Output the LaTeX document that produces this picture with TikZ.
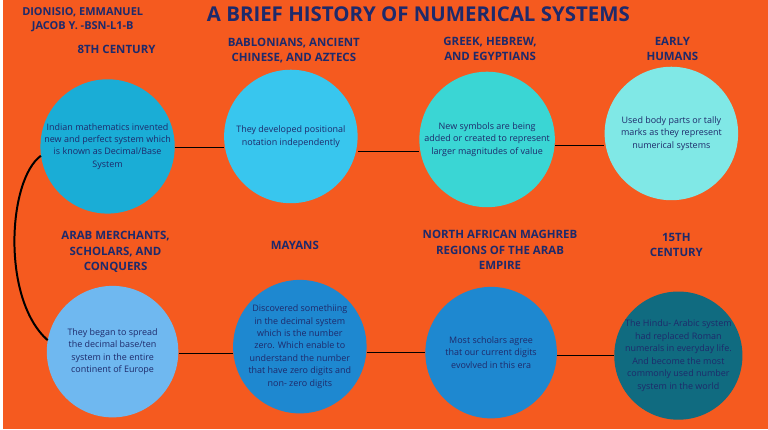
\documentclass[tikz,border=0pt]{standalone}
\usepackage{fontspec}
\setmainfont{Open Sans}
\definecolor{bg}{HTML}{F55A1F}
\definecolor{navy}{HTML}{1E2A6B}
\definecolor{cA}{HTML}{1AADD6}
\definecolor{cB}{HTML}{38C6EE}
\definecolor{cC}{HTML}{3AD6D4}
\definecolor{cD}{HTML}{80E8E6}
\definecolor{cE}{HTML}{6FB8F0}
\definecolor{cF}{HTML}{1E88D0}
\definecolor{cG}{HTML}{106B80}
\begin{document}
\begin{tikzpicture}[x=1pt,y=-1pt,
 circ/.style={circle,minimum size=#1*2pt,inner sep=0pt,text=navy,font=\fontsize{9}{12.5}\selectfont,align=center},
 head/.style={text=navy,font=\bfseries\fontsize{11.5}{15.5}\selectfont,align=center},
 link/.style={black,line width=1.1pt}]
\fill[bg] (0,0) rectangle (768,431);
\node[text=navy,font=\bfseries\fontsize{20.5}{24}\selectfont] (title) at (417,14) {A BRIEF HISTORY OF NUMERICAL SYSTEMS};
\node[head,font=\bfseries\fontsize{11}{14.5}\selectfont] (auth) at (80,20) {DIONISIO, EMMANUEL\\JACOB Y. -BSN-L1-B};
\node[head] (h1) at (114,50) {8TH CENTURY};
\node[head] (h2) at (292,51) {BABLONIANS, ANCIENT\\CHINESE, AND AZTECS};
\node[head] (h3) at (489,49) {GREEK, HEBREW,\\AND EGYPTIANS};
\node[head] (h4) at (672,49) {EARLY\\HUMANS};
\node[head] (h5) at (113,253) {ARAB MERCHANTS,\\SCHOLARS, AND\\CONQUERS};
\node[head] (h6) at (293,246) {MAYANS};
\node[head] (h7) at (499,251) {NORTH AFRICAN MAGHREB\\REGIONS OF THE ARAB\\EMPIRE};
\node[head] (h8) at (676,246) {15TH\\CENTURY};
\node[circ=65,fill=cA] (c1) at (105,147) {Indian mathematics invented\\new and perfect system which\\is known as Decimal/Base\\System};
\node[circ=67,fill=cB] (c2) at (289,137) {They developed positional\\notation independently};
\node[circ=68,fill=cC] (c3) at (486,140) {New symbols are being\\added or created to represent\\larger magnitudes of value};
\node[circ=67,fill=cD] (c4) at (671,134) {Used body parts or tally\\marks as they represent\\numerical systems};
\node[circ=66,fill=cE] (c5) at (110,353) {They began to spread\\the decimal base/ten\\system in the entire\\continent of Europe};
\node[circ=67,fill=cF] (c6) at (298,348) {Discovered somethiing\\in the decimal system\\which is the number\\zero. Which enable to\\understand the number\\that have zero digits and\\non- zero digits};
\node[circ=66,fill=cF] (c7) at (490,354) {Most scholars agree\\that our current digits\\evovlved in this era};
\node[circ=64,fill=cG] (c8) at (678,357) {The Hindu- Arabic system\\had replaced Roman\\numerals in everyday life.\\And become the most\\commonly used number\\system in the world};
\draw[link] (c1.east |- 0,148) -- (c2.west |- 0,148);
\draw[link] (c2.east |- 0,152) -- (c3.west |- 0,152);
\draw[link] (c3.east |- 0,146) -- (c4.west |- 0,146);
\draw[link] (c5.east |- 0,355) -- (c6.west |- 0,355);
\draw[link] (c6.east |- 0,354) -- (c7.west |- 0,354);
\draw[link] (c7.east |- 0,357) -- (c8.west |- 0,357);
\draw[link,line width=2pt] (c1.188) .. controls (5,180) and (-2,300) .. (c5.170);
\end{tikzpicture}
\end{document}
